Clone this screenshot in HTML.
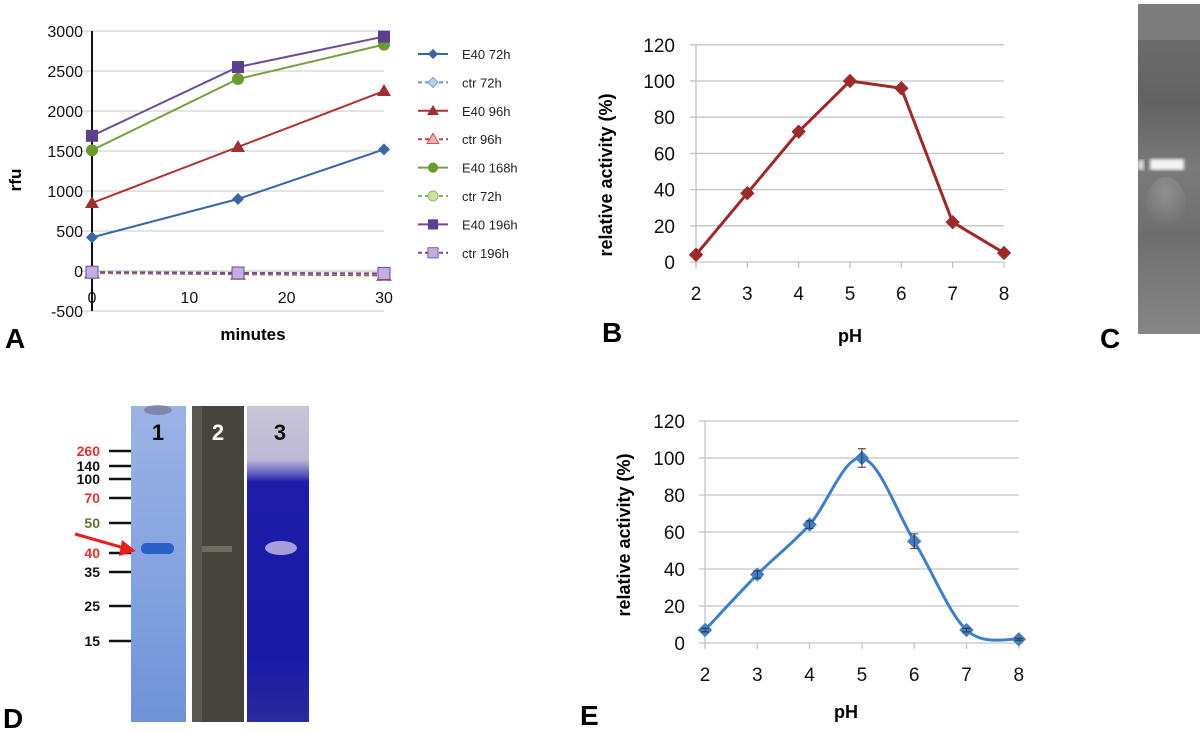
<!DOCTYPE html>
<html><head><meta charset="utf-8"><style>
html,body{margin:0;padding:0;background:#fff;}
svg{display:block;font-family:"Liberation Sans",sans-serif;}
</style></head><body>
<svg id="fig" width="1200" height="733" viewBox="0 0 1200 733" xmlns="http://www.w3.org/2000/svg">
<defs>
<linearGradient id="l3" x1="0" y1="0" x2="0" y2="1">
<stop offset="0" stop-color="#c9c6d6"/><stop offset="0.17" stop-color="#bdb8d6"/><stop offset="0.22" stop-color="#5550b8"/><stop offset="0.24" stop-color="#1e1ca8"/><stop offset="0.8" stop-color="#1a1aa6"/><stop offset="1" stop-color="#2a2a9a"/>
</linearGradient>
<linearGradient id="l1" x1="0" y1="0" x2="0" y2="1">
<stop offset="0" stop-color="#9cb3e6"/><stop offset="0.5" stop-color="#86a4e0"/><stop offset="1" stop-color="#6f92d8"/>
</linearGradient>
<linearGradient id="gc" x1="0" y1="0" x2="0" y2="1">
<stop offset="0" stop-color="#707070"/><stop offset="0.3" stop-color="#626262"/><stop offset="0.5" stop-color="#7a7a7a"/><stop offset="0.7" stop-color="#6e6e6e"/><stop offset="1" stop-color="#868686"/>
</linearGradient>
<radialGradient id="smear" cx="0.5" cy="0.3" r="0.6"><stop offset="0" stop-color="#aaa" stop-opacity="0.5"/><stop offset="1" stop-color="#aaa" stop-opacity="0"/></radialGradient>
<filter id="blur1"><feGaussianBlur stdDeviation="1.5"/></filter>
</defs>
<g id="pa"></g>
<g id="pb"></g>
<g id="pe"></g>

<!-- Panel C gel -->
<g>
<rect x="1138" y="4" width="62" height="330" fill="url(#gc)"/>
<rect x="1138" y="4" width="62" height="36" fill="#7c7c7c"/>
<ellipse cx="1166" cy="205" rx="20" ry="28" fill="url(#smear)"/>
<rect x="1150" y="159" width="34" height="11" fill="#f4f4f4" filter="url(#blur1)"/>
<rect x="1138" y="160" width="6" height="10" fill="#ddd" filter="url(#blur1)"/>
</g>
<text x="1100" y="348" font-size="28" font-weight="bold">C</text>

<!-- Panel D gel -->
<g>
<rect x="131" y="406" width="55" height="316" fill="url(#l1)"/>
<ellipse cx="158" cy="410" rx="14" ry="5" fill="#6a6a80" opacity="0.6"/>
<rect x="141" y="543" width="33" height="11" rx="5" fill="#2a5fc8"/>
<rect x="192" y="406" width="52" height="316" fill="#47443e"/>
<rect x="192" y="406" width="10" height="316" fill="#5a5752"/>
<rect x="202" y="546" width="30" height="6" fill="#8a877c" opacity="0.6"/>
<rect x="247" y="406" width="62" height="316" fill="url(#l3)"/>
<ellipse cx="281" cy="548" rx="16" ry="7" fill="#c8c0e8" opacity="0.8"/>
<text x="158" y="440" font-size="22" font-weight="bold" text-anchor="middle" fill="#111">1</text>
<text x="218" y="440" font-size="22" font-weight="bold" text-anchor="middle" fill="#fff">2</text>
<text x="280" y="440" font-size="22" font-weight="bold" text-anchor="middle" fill="#111">3</text>
<g id="markers"></g>
<line x1="75" y1="534" x2="128" y2="549" stroke="#e81e1e" stroke-width="3"/>
<polygon points="136,551 122,540 119,556" fill="#e81e1e"/>
</g>
<text x="3" y="728" font-size="28" font-weight="bold">D</text>
</svg>
<script>
const NS="http://www.w3.org/2000/svg";
function mk(p,tag,at,txt){const e=document.createElementNS(NS,tag);for(const k in at)e.setAttribute(k,at[k]);if(txt!==undefined)e.textContent=txt;p.appendChild(e);return e;}

// ---------- Panel A data ----------
const aMinutes=[0,15,30];
const aYTicks=[-500,0,500,1000,1500,2000,2500,3000];
const aXTicks=[0,10,20,30];
const e40_72h=[420,900,1520];
const ctr_72h=[-20,-25,-35];
const e40_96h=[850,1550,2250];
const ctr_96h=[-25,-40,-55];
const e40_168h=[1510,2400,2830];
const ctr_72h_b=[-20,-30,-40];
const e40_196h=[1690,2550,2930];
const ctr_196h=[-15,-25,-30];
const aLegend=["E40 72h","ctr 72h","E40 96h","ctr 96h","E40 168h","ctr 72h","E40 196h","ctr 196h"];

// ---------- Panel B data ----------
const bPH=[2,3,4,5,6,7,8];
const bActivity=[4,38,72,100,96,22,5];
const yTicks120=[0,20,40,60,80,100,120];

// ---------- Panel E data ----------
const ePH=[2,3,4,5,6,7,8];
const eActivity=[7,37,64,100,55,7,2];
const eError=[1,2,2,5,4,1,0.5];

// ---------- Panel D markers ----------
const mwLabels=["260","140","100","70","50","40","35","25","15"];
const mwColors=["#e83030","#111","#111","#e83030","#6b6b3a","#e83030","#111","#111","#111"];

function marker(g,shape,x,y,fill,stroke,name){
  let e;
  if(shape==="diamond")e=mk(g,"polygon",{points:`${x},${y-6} ${x+6},${y} ${x},${y+6} ${x-6},${y}`,fill,stroke});
  else if(shape==="tri")e=mk(g,"polygon",{points:`${x},${y-7} ${x+7},${y+5} ${x-7},${y+5}`,fill,stroke});
  else if(shape==="circle")e=mk(g,"circle",{cx:x,cy:y,r:6,fill,stroke});
  else e=mk(g,"rect",{x:x-6,y:y-6,width:12,height:12,fill,stroke});
  
  
  return e;
}

// Panel A
(function(){
  const g=document.getElementById('pa');
  const X=v=>92+v*(292/30), Y=v=>271-v*0.08;
  aYTicks.forEach(t=>{
    const l=mk(g,"line",{x1:82,y1:Y(t),x2:384,y2:Y(t),stroke:t===0?"#bbb":"#c8c8c8","stroke-width":1});
    
    const tx=mk(g,"text",{x:83,y:Y(t)+6,"font-size":16,"text-anchor":"end",fill:"#111"},t);
    
  });
  mk(g,"line",{x1:92,y1:Y(3000),x2:92,y2:Y(-500),stroke:"#111","stroke-width":2});
  aXTicks.forEach(t=>{
    const tx=mk(g,"text",{x:X(t),y:303,"font-size":16,"text-anchor":"middle",fill:"#111"},t);
    
  });
  const series=[
    [e40_72h,"#3a66a8","#3a66a8","diamond",false],
    [ctr_72h,"#6b8fd0","#b8cdee","diamond",true],
    [e40_96h,"#b03030","#a03030","tri",false],
    [ctr_96h,"#c04040","#f0b0b0","tri",true],
    [e40_168h,"#78a040","#6a9a30","circle",false],
    [ctr_72h_b,"#90b060","#c8e0a0","circle",true],
    [e40_196h,"#6a4c98","#5e3f8e","square",false],
    [ctr_196h,"#6a4c98","#c4aee0","square",true]
  ];
  series.forEach((s,i)=>{
    const pts=aMinutes.map((m,j)=>X(m)+","+Y(s[0][j])).join(" ");
    const pl=mk(g,"polyline",{points:pts,fill:"none",stroke:s[1],"stroke-width":2,"stroke-dasharray":s[4]?"5,3":"none"});
    
    aMinutes.forEach((m,j)=>marker(g,s[3],X(m),Y(s[0][j]),s[2],s[4]?s[1]:"none",'series-point'));
    const ly=54+i*28.4;
    mk(g,"line",{x1:418,y1:ly,x2:448,y2:ly,stroke:s[1],"stroke-width":2,"stroke-dasharray":s[4]?"4,3":"none"});
    const m=marker(g,s[3],433,ly,s[2],s[4]?s[1]:"none",'legend-marker');
    m.setAttribute('transform',`translate(433,${ly}) scale(0.85) translate(-433,${-ly})`);
    const t=mk(g,"text",{x:462,y:ly+5,"font-size":13,fill:"#222"},aLegend[i]);
    
  });
  const yt=mk(g,"text",{x:0,y:0,"font-size":17,"font-weight":"bold","text-anchor":"middle",transform:"translate(21,180) rotate(-90)"},"rfu");
  
  const xt=mk(g,"text",{x:253,y:340,"font-size":17,"font-weight":"bold","text-anchor":"middle"},"minutes");
  
  const L=mk(g,"text",{x:5,y:348,"font-size":28,"font-weight":"bold"},"A");
  
})();

function phChart(gid,xs,ys,x0,step,y0,ppu,color,smooth,labelRight,xLabY,titleY,titleX,ytX,ytY,letter,letX,letY){
  const g=document.getElementById(gid);
  const X=v=>x0+(v-2)*step, Y=v=>y0-v*ppu;
  const xEnd=X(8);
  yTicks120.forEach(t=>{
    const l=mk(g,"line",{x1:x0-6,y1:Y(t),x2:xEnd,y2:Y(t),stroke:"#c4c4c4","stroke-width":1.3});
    
    const tx=mk(g,"text",{x:labelRight,y:Y(t)+7,"font-size":19,"text-anchor":"end",fill:"#111"},t);
    
  });
  mk(g,"line",{x1:x0,y1:Y(120),x2:x0,y2:Y(0)+5,stroke:"#c4c4c4","stroke-width":1.3});
  xs.forEach(v=>{
    mk(g,"line",{x1:X(v),y1:Y(0),x2:X(v),y2:Y(0)+6,stroke:"#c4c4c4","stroke-width":1.3});
    const tx=mk(g,"text",{x:X(v),y:xLabY,"font-size":19,"text-anchor":"middle",fill:"#111"},v);
    
  });
  const P=xs.map((v,i)=>[X(v),Y(ys[i])]);
  let d="M"+P[0][0]+","+P[0][1];
  if(smooth){
    for(let i=0;i<P.length-1;i++){
      const p0=P[i-1]||P[i],p1=P[i],p2=P[i+1],p3=P[i+2]||P[i+1],k=6;
      d+=` C${p1[0]+(p2[0]-p0[0])/k},${p1[1]+(p2[1]-p0[1])/k} ${p2[0]-(p3[0]-p1[0])/k},${p2[1]-(p3[1]-p1[1])/k} ${p2[0]},${p2[1]}`;
    }
  } else P.slice(1).forEach(p=>d+=` L${p[0]},${p[1]}`);
  const path=mk(g,"path",{d,fill:"none",stroke:color,"stroke-width":3});
  
  P.forEach(p=>{
    marker(g,"diamond",p[0],p[1],color,"none",'data-point').setAttribute('transform',`translate(${p[0]},${p[1]}) scale(1.2) translate(${-p[0]},${-p[1]})`);
  });
  const yt=mk(g,"text",{x:0,y:0,"font-size":18,"font-weight":"bold","text-anchor":"middle",transform:`translate(${ytX},${ytY}) rotate(-90)`},gid==="pb"?"relative activity  (%)":"relative activity (%)");
  
  const xt=mk(g,"text",{x:titleX,y:titleY,"font-size":18,"font-weight":"bold","text-anchor":"middle"},"pH");
  
  const L=mk(g,"text",{x:letX,y:letY,"font-size":28,"font-weight":"bold"},letter);
  
}
phChart('pb',bPH,bActivity,696,51.33,262,1.81,"#9b2b2b",false,675,300,342,850,612,175,"B",602,342);
phChart('pe',ePH,eActivity,705,52.3,643,1.85,"#3f7fc8",true,685,681,718,846,630,535,"E",580,725);
(function(){ // error bars for E
  const g=document.getElementById('pe');
  const X=v=>705+(v-2)*52.3, Y=v=>643-v*1.85;
  ePH.forEach((v,i)=>{
    const x=X(v),a=Y(eActivity[i]+eError[i]),b=Y(eActivity[i]-eError[i]);
    const e=mk(g,"path",{d:`M${x},${a}V${b}M${x-4},${a}H${x+4}M${x-4},${b}H${x+4}`,stroke:"#333","stroke-width":1,fill:"none"});
    
    
  });
})();

// markers
(function(){
  const g=document.getElementById('markers');
  const ys=[451,466,479,498,523,553,572,606,641];
  mwLabels.forEach((lab,i)=>{
    mk(g,"line",{x1:109,y1:ys[i],x2:131,y2:ys[i],stroke:"#111","stroke-width":2.5});
    const t=mk(g,"text",{x:100,y:ys[i]+5,"font-size":14,"font-weight":"bold","text-anchor":"end",fill:mwColors[i]},lab);
    
    
  });
})();
</script>
</body></html>
